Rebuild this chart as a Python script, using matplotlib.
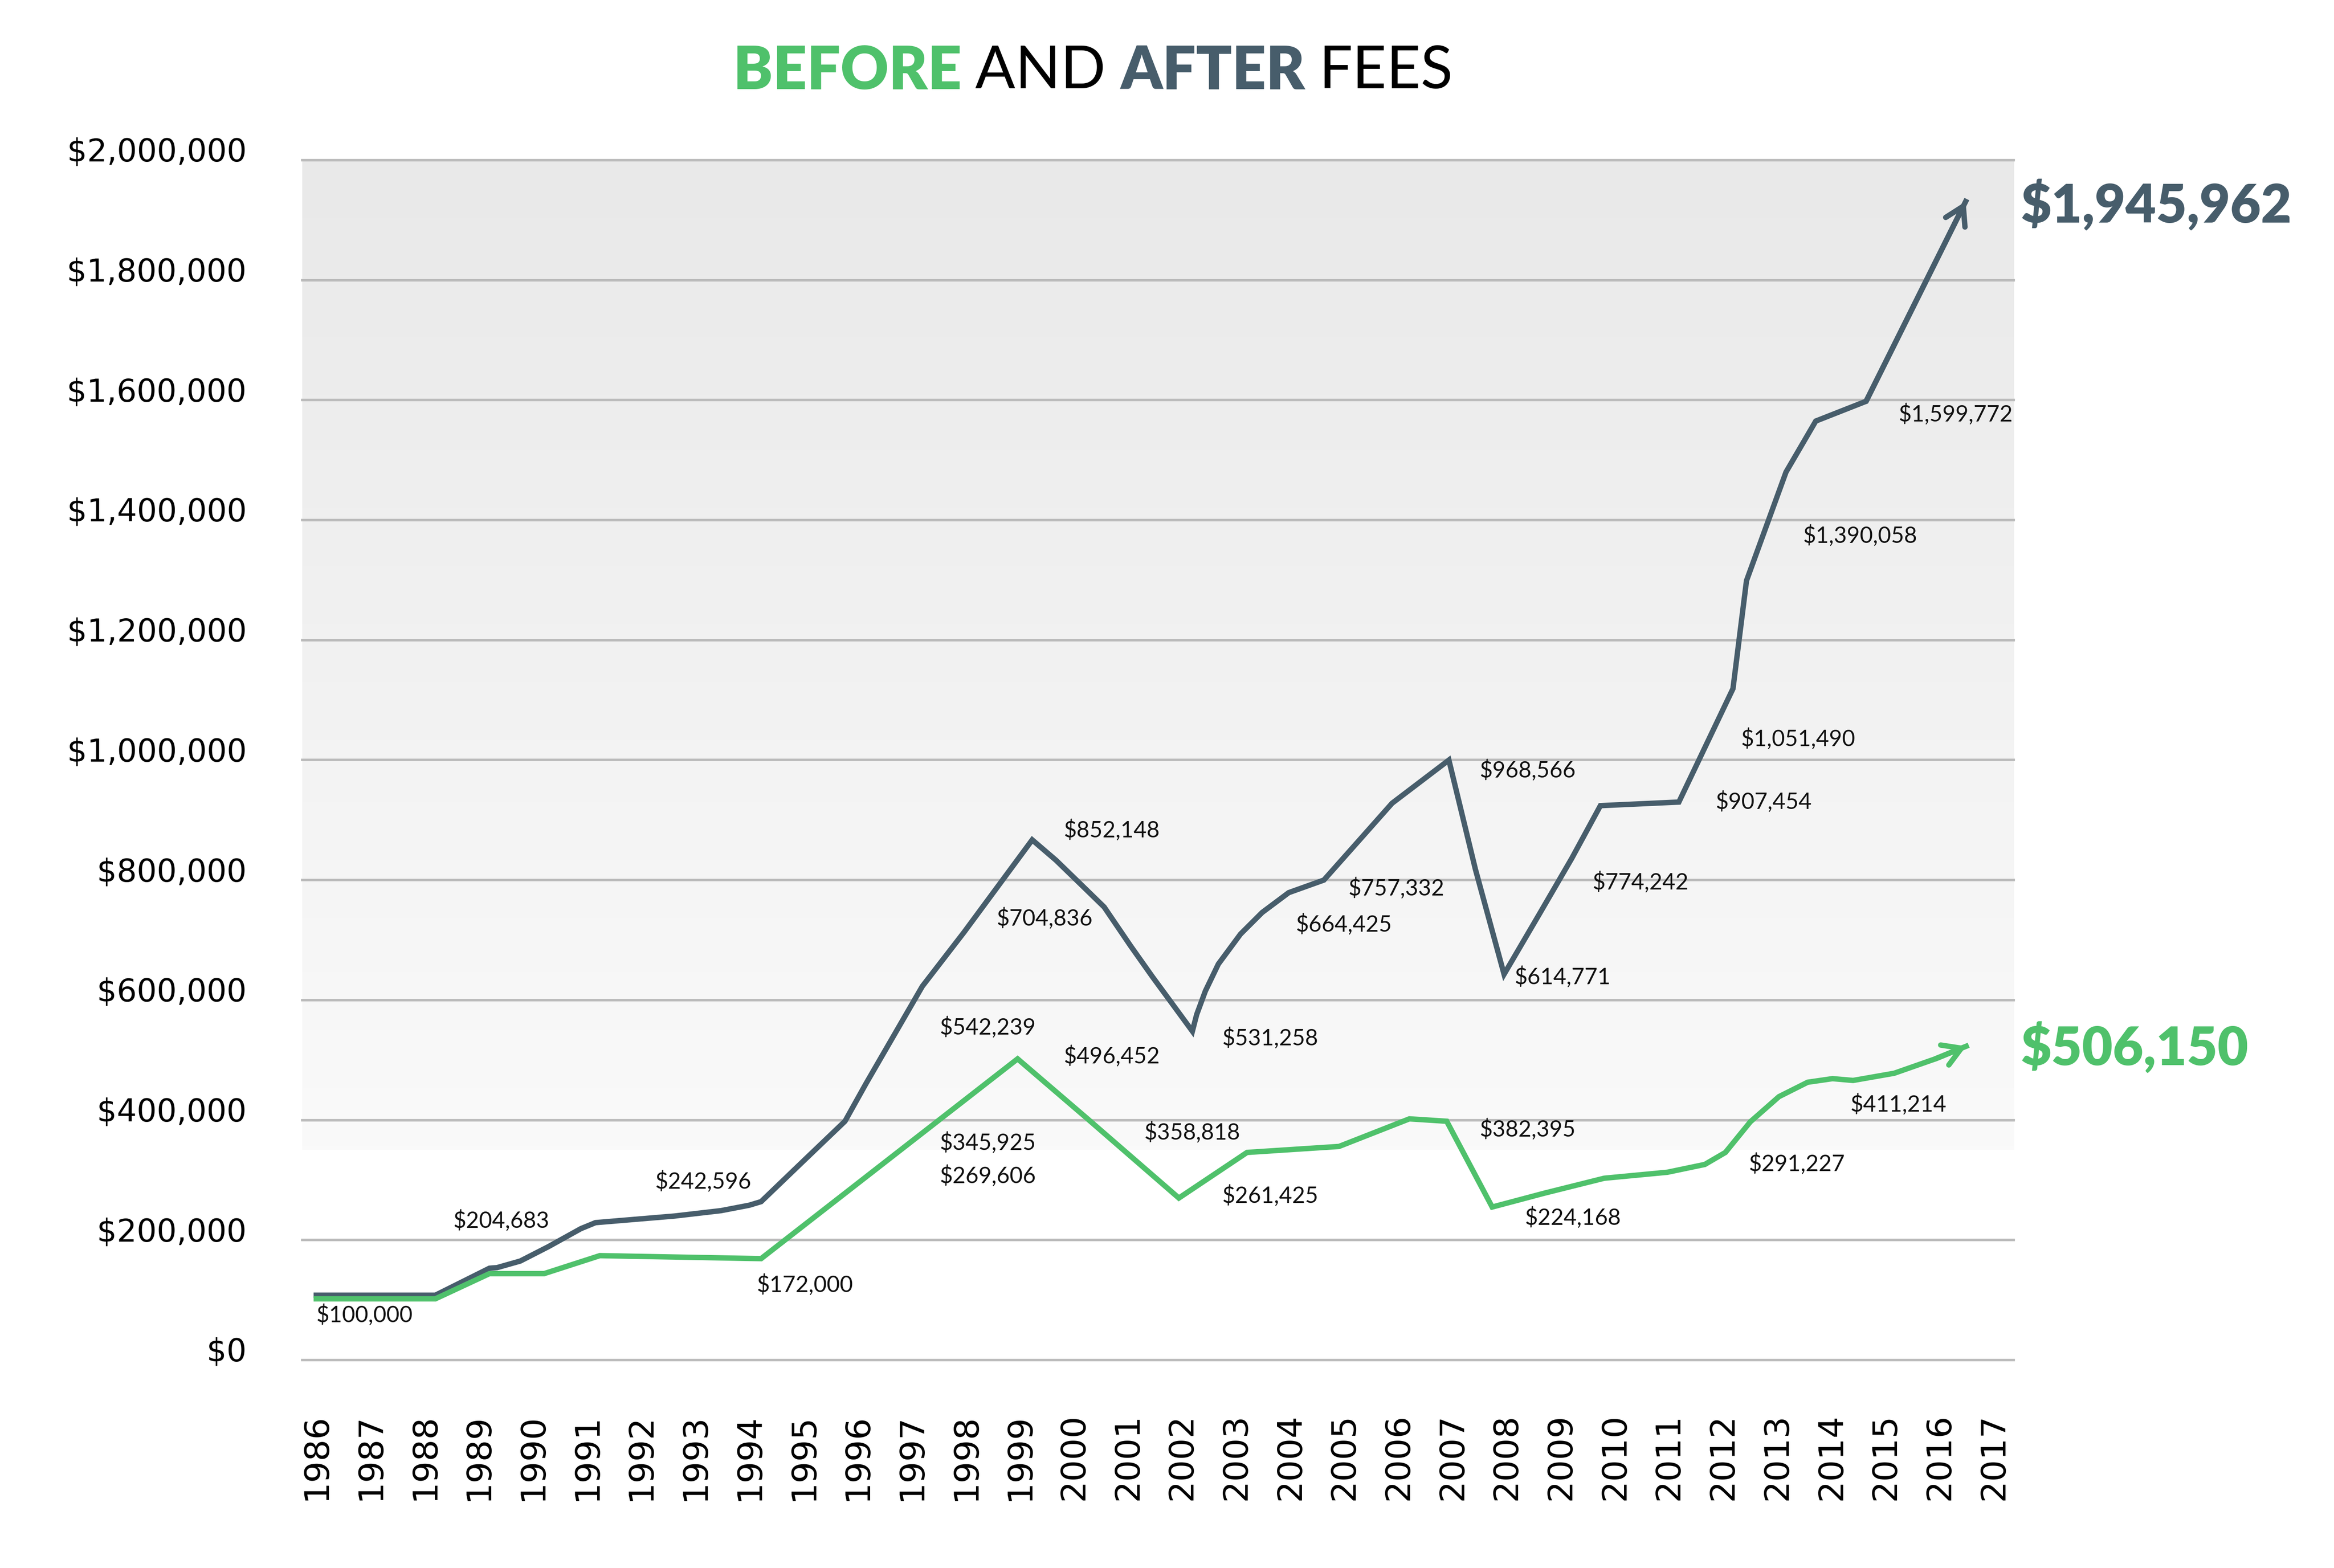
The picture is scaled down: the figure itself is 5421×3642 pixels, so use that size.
import numpy as np
import matplotlib
matplotlib.use("Agg")
import matplotlib.pyplot as plt
from matplotlib.colors import LinearSegmentedColormap
from matplotlib.transforms import ScaledTranslation

# traced values: fractional year positions and dollar values
before_x = [1986.0, 1988.2, 1989.2, 1989.34, 1989.77, 1990.29, 1990.89, 1991.16,
            1992.62, 1993.48, 1994.0, 1994.22, 1995.04, 1995.77, 1996.16, 1997.2,
            1997.97, 1999.23, 1999.67, 2000.15, 2000.56, 2001.05, 2001.45, 2002.19,
            2002.27, 2002.43, 2002.67, 2003.08, 2003.48, 2003.97, 2004.62, 2005.27,
            2005.88, 2006.93, 2007.42, 2007.95, 2008.6, 2009.2, 2009.73, 2011.18,
            2012.18, 2012.43, 2013.16, 2013.71, 2014.64, 2016.48]
before_y = [108000, 108000, 153000, 154000, 165000, 189000, 219000, 229000,
            240000, 249000, 258000, 264000, 335000, 398000, 461000, 623000,
            713000, 867000, 833000, 791000, 755000, 690000, 639000, 548000,
            576000, 615000, 660000, 710000, 746000, 779000, 800000, 866000,
            928000, 1000000, 818000, 643000, 743000, 836000, 924000, 930000,
            1119000, 1299000, 1480000, 1565000, 1598000, 1931000]

after_x = [1986.0, 1988.2, 1989.2, 1990.21, 1991.24, 1994.22, 1998.96, 2000.24,
           2001.94, 2003.2, 2004.9, 2006.2, 2006.89, 2007.73, 2008.69, 2009.8,
           2010.97, 2011.66, 2012.04, 2012.5, 2013.03, 2013.56, 2014.02, 2014.4,
           2015.16, 2015.92, 2016.49]
after_y = [102000, 102000, 144000, 144000, 174000, 169000, 502000, 403000,
           270000, 346000, 356000, 402000, 398000, 255000, 278000, 303000,
           313000, 326000, 346000, 397000, 439000, 463000, 469000, 466000,
           478000, 502000, 523000]

years = list(range(1986, 2018))
y_ticks = [0, 200000, 400000, 600000, 800000, 1000000, 1200000, 1400000,
           1600000, 1800000, 2000000]

# point labels: (text, left year, value)
labels = [("$100,000", 1986.0, 75000), ("$204,683", 1988.53, 232000),
          ("$242,596", 1992.26, 297000), ("$172,000", 1994.14, 125000),
          ("$345,925", 1997.52, 362000), ("$269,606", 1997.52, 307000),
          ("$542,239", 1997.52, 554000), ("$704,836", 1998.57, 736000),
          ("$852,148", 1999.81, 883000), ("$496,452", 1999.81, 506000),
          ("$358,818", 2001.3, 379000), ("$261,425", 2002.74, 274000),
          ("$531,258", 2002.74, 536000), ("$664,425", 2004.1, 726000),
          ("$757,332", 2005.07, 786000), ("$968,566", 2007.5, 983000),
          ("$382,395", 2007.5, 384000), ("$614,771", 2008.14, 638000),
          ("$224,168", 2008.33, 237000), ("$774,242", 2009.58, 796000),
          ("$907,454", 2011.86, 930000), ("$1,051,490", 2012.33, 1035000),
          ("$291,227", 2012.47, 327000), ("$1,390,058", 2013.47, 1374000),
          ("$411,214", 2014.35, 426000), ("$1,599,772", 2015.24, 1576000)]

end_before = "$1,945,962"
end_after = "$506,150"

green = "#4fc16b"
slate = "#475d6b"

plt.rcParams['font.family'] = ['Lato', 'DejaVu Sans']

fig = plt.figure(figsize=(5421 / 300, 3642 / 300), dpi=300)
W, H = 1560.0, 1048.0
ax = fig.add_axes([202 / W, (H - 909) / H, (1346 - 202) / W, (909 - 107) / H])

xlim = (1985.74, 2017.37)

# gradient background
grad = np.linspace(0, 1, 256).reshape(-1, 1)
cmap = LinearSegmentedColormap.from_list("bg", ["#e9e9e9", "#fafafa"])
ax.imshow(grad, cmap=cmap, aspect="auto", extent=[xlim[0], xlim[1], 350000, 2000000],
          origin="upper", zorder=0)

ax.plot(before_x, before_y, color=slate, lw=3.0, solid_joinstyle="miter", zorder=3)
ax.plot(after_x, after_y, color=green, lw=3.0, solid_joinstyle="miter", zorder=3)

for xs, ys, c in [(before_x, before_y, slate), (after_x, after_y, green)]:
    ax.annotate("", xy=(xs[-1], ys[-1]), xytext=(xs[-2], ys[-2]),
                arrowprops=dict(arrowstyle="->,head_length=0.5,head_width=0.3",
                                color=c, lw=3.0, mutation_scale=20,
                                shrinkA=0, shrinkB=0), zorder=4)

for txt, lx, ly in labels:
    ax.text(lx, ly, txt, fontsize=12.5, color="#111111", ha="left", va="center", zorder=5)

ax.text(2017.5, 1925000, end_before, fontsize=29.5, fontweight="heavy", color=slate,
        ha="left", va="center", clip_on=False)
ax.text(2017.5, 521000, end_after, fontsize=29.5, fontweight="heavy", color=green,
        ha="left", va="center", clip_on=False)

ax.set_xlim(*xlim)
ax.set_ylim(0, 2000000)
ax.set_xticks(years)
ax.set_xticklabels([str(y) for y in years], rotation=90, fontsize=19,
                   family="DejaVu Sans")
ax.set_yticks(y_ticks)
ax.set_yticklabels(["${:,}".format(v) for v in y_ticks], fontsize=17.5,
                   family="DejaVu Sans")
ax.tick_params(axis="both", length=0)
ax.tick_params(axis="x", pad=30)
ax.tick_params(axis="y", pad=31)
off = ScaledTranslation(0, 6 / 72, fig.dpi_scale_trans)
for lab in ax.get_yticklabels():
    lab.set_transform(lab.get_transform() + off)

ax.grid(axis="y", color="#bbbbbb", lw=1.4, zorder=1)
ax.grid(axis="x", visible=False)
for gl in ax.get_ygridlines():
    gl.set_clip_on(False)
ax.set_axisbelow(True)
for s in ax.spines.values():
    s.set_visible(False)

# title built from pieces
pieces = [("BEFORE ", green, "heavy"), ("AND ", "black", "normal"),
          ("AFTER ", slate, "heavy"), ("FEES", "black", "normal")]
renderer = fig.canvas.get_renderer()
x = 490 / W
for txt, c, wgt in pieces:
    t = fig.text(x, (H - 48) / H, txt, color=c, fontweight=wgt, fontsize=33,
                 ha="left", va="center")
    bb = t.get_window_extent(renderer=renderer)
    x = fig.transFigure.inverted().transform((bb.x1, bb.y0))[0]

fig.savefig("out.png", dpi=300)
